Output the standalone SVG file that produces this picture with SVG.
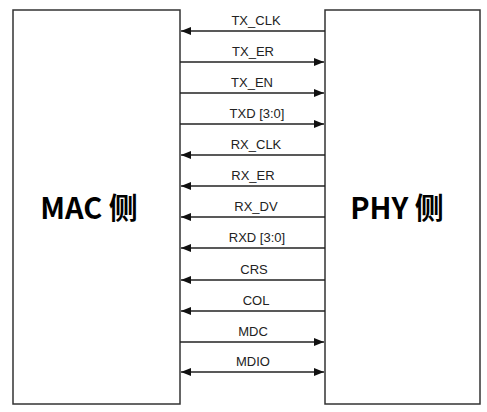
<svg xmlns="http://www.w3.org/2000/svg" width="487" height="412" viewBox="0 0 487 412">
<style>
.box{fill:#fff;stroke:#333;stroke-width:1.5}
.ln{stroke:#222;stroke-width:1.5;fill:none}
.lbl{font-family:"Liberation Sans",Arial,sans-serif;font-size:13px;fill:#222;text-anchor:middle}
.title{font-family:"Noto Sans CJK SC","Liberation Sans",sans-serif;font-weight:bold;font-size:29px;fill:#000;text-anchor:middle}
</style>
<defs>
<marker id="ah" viewBox="0 0 10 8" refX="10" refY="4" markerWidth="10" markerHeight="8" markerUnits="userSpaceOnUse" orient="auto-start-reverse">
<path d="M0,0 L10,4 L0,8 Z" fill="#111"/>
</marker>
</defs>
<rect width="487" height="412" fill="#fff"/>
<g id="mac">
<rect class="box" x="13" y="10" width="167" height="394"/>
<text class="title" x="89" y="219">MAC 侧</text>
</g>
<g id="phy">
<rect class="box" x="325" y="10" width="155" height="394"/>
<text class="title" x="397" y="219">PHY 侧</text>
</g>
<g id="connectors">
<line class="ln" x1="325" y1="31" x2="181" y2="31" marker-end="url(#ah)"/>
<text class="lbl" x="256" y="25">TX_CLK</text>
<line class="ln" x1="180" y1="62" x2="324" y2="62" marker-end="url(#ah)"/>
<text class="lbl" x="253" y="56">TX_ER</text>
<line class="ln" x1="180" y1="93" x2="324" y2="93" marker-end="url(#ah)"/>
<text class="lbl" x="252" y="87">TX_EN</text>
<line class="ln" x1="180" y1="124" x2="324" y2="124" marker-end="url(#ah)"/>
<text class="lbl" x="257" y="118">TXD [3:0]</text>
<line class="ln" x1="325" y1="155" x2="181" y2="155" marker-end="url(#ah)"/>
<text class="lbl" x="256" y="149">RX_CLK</text>
<line class="ln" x1="325" y1="186" x2="181" y2="186" marker-end="url(#ah)"/>
<text class="lbl" x="253" y="180">RX_ER</text>
<line class="ln" x1="325" y1="217" x2="181" y2="217" marker-end="url(#ah)"/>
<text class="lbl" x="256" y="211">RX_DV</text>
<line class="ln" x1="325" y1="248" x2="181" y2="248" marker-end="url(#ah)"/>
<text class="lbl" x="257" y="242">RXD [3:0]</text>
<line class="ln" x1="325" y1="280" x2="181" y2="280" marker-end="url(#ah)"/>
<text class="lbl" x="254" y="274">CRS</text>
<line class="ln" x1="325" y1="311" x2="181" y2="311" marker-end="url(#ah)"/>
<text class="lbl" x="256" y="305">COL</text>
<line class="ln" x1="180" y1="342" x2="324" y2="342" marker-end="url(#ah)"/>
<text class="lbl" x="253" y="336">MDC</text>
<line class="ln" x1="181" y1="372" x2="324" y2="372" marker-start="url(#ah)" marker-end="url(#ah)"/>
<text class="lbl" x="253" y="366">MDIO</text>
</g>
</svg>
